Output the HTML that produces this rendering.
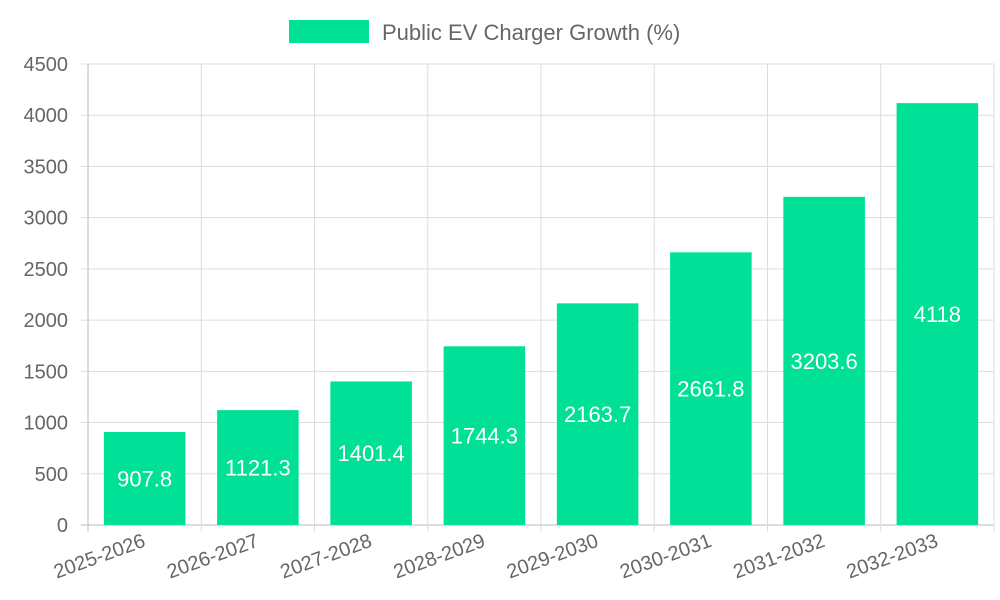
<!DOCTYPE html>
<html><head><meta charset="utf-8"><style>
body{margin:0;background:#fff;font-family:"Liberation Sans",sans-serif}
svg{display:block}
</style></head><body>
<svg id="chart" width="1000" height="600">
<g id="grid"></g>
<g id="bars"></g>
<g id="labels"></g>
<g>
<rect x="289" y="20" width="80" height="23" fill="#00e096"/>
<text x="382" y="40" font-size="22" fill="#666">Public EV Charger Growth (%)</text>
</g>
</svg>
<script>
const categories=["2025-2026","2026-2027","2027-2028","2028-2029","2029-2030","2030-2031","2031-2032","2032-2033"];
const values=[907.8,1121.3,1401.4,1744.3,2163.7,2661.8,3203.6,4118];
const yTicks=[0,500,1000,1500,2000,2500,3000,3500,4000,4500];
const X0=88,X1=994,Y0=525,Y1=64,YMAX=4500;
const ns="http://www.w3.org/2000/svg";
const cw=(X1-X0)/categories.length;
const y=v=>Y0-(v/YMAX)*(Y0-Y1);
const xc=i=>X0+cw*(i+0.5);
function mk(t,a,p){const e=document.createElementNS(ns,t);for(const k in a)e.setAttribute(k,a[k]);p.appendChild(e);return e;}
const g=document.getElementById('grid'),b=document.getElementById('bars'),l=document.getElementById('labels');
yTicks.forEach(v=>{
 const ln=mk('line',{x1:X0-7,x2:X1,y1:y(v),y2:y(v),stroke:v===0?'#bbb':'#ddd','stroke-width':1},g);
 
 
 const t=mk('text',{x:X0-20,y:y(v)+7,'text-anchor':'end','font-size':20,fill:'#666'},l);
 t.textContent=v;
 
 
});
for(let i=0;i<=categories.length;i++){
 const x=X0+cw*i;
 const ln=mk('line',{x1:x,x2:x,y1:Y1,y2:Y0+7,stroke:i===0?'#bbb':'#ddd','stroke-width':1},g);
 
 
}
categories.forEach((c,i)=>{
 const bw=cw*0.72,v=values[i];
 const r=mk('rect',{x:xc(i)-bw/2,y:y(v),width:bw,height:Y0-y(v),fill:'#00e096'},b);
 
 
 const t=mk('text',{x:xc(i),y:(y(v)+Y0)/2+8,'text-anchor':'middle','font-size':22,fill:'#fff'},l);
 t.textContent=v;
 
 
 const xl=mk('text',{'text-anchor':'end','font-size':20,fill:'#666',transform:`translate(${xc(i)+2},${546}) rotate(-20)`},l);
 xl.textContent=c;
 
 
});
</script>
</body></html>
